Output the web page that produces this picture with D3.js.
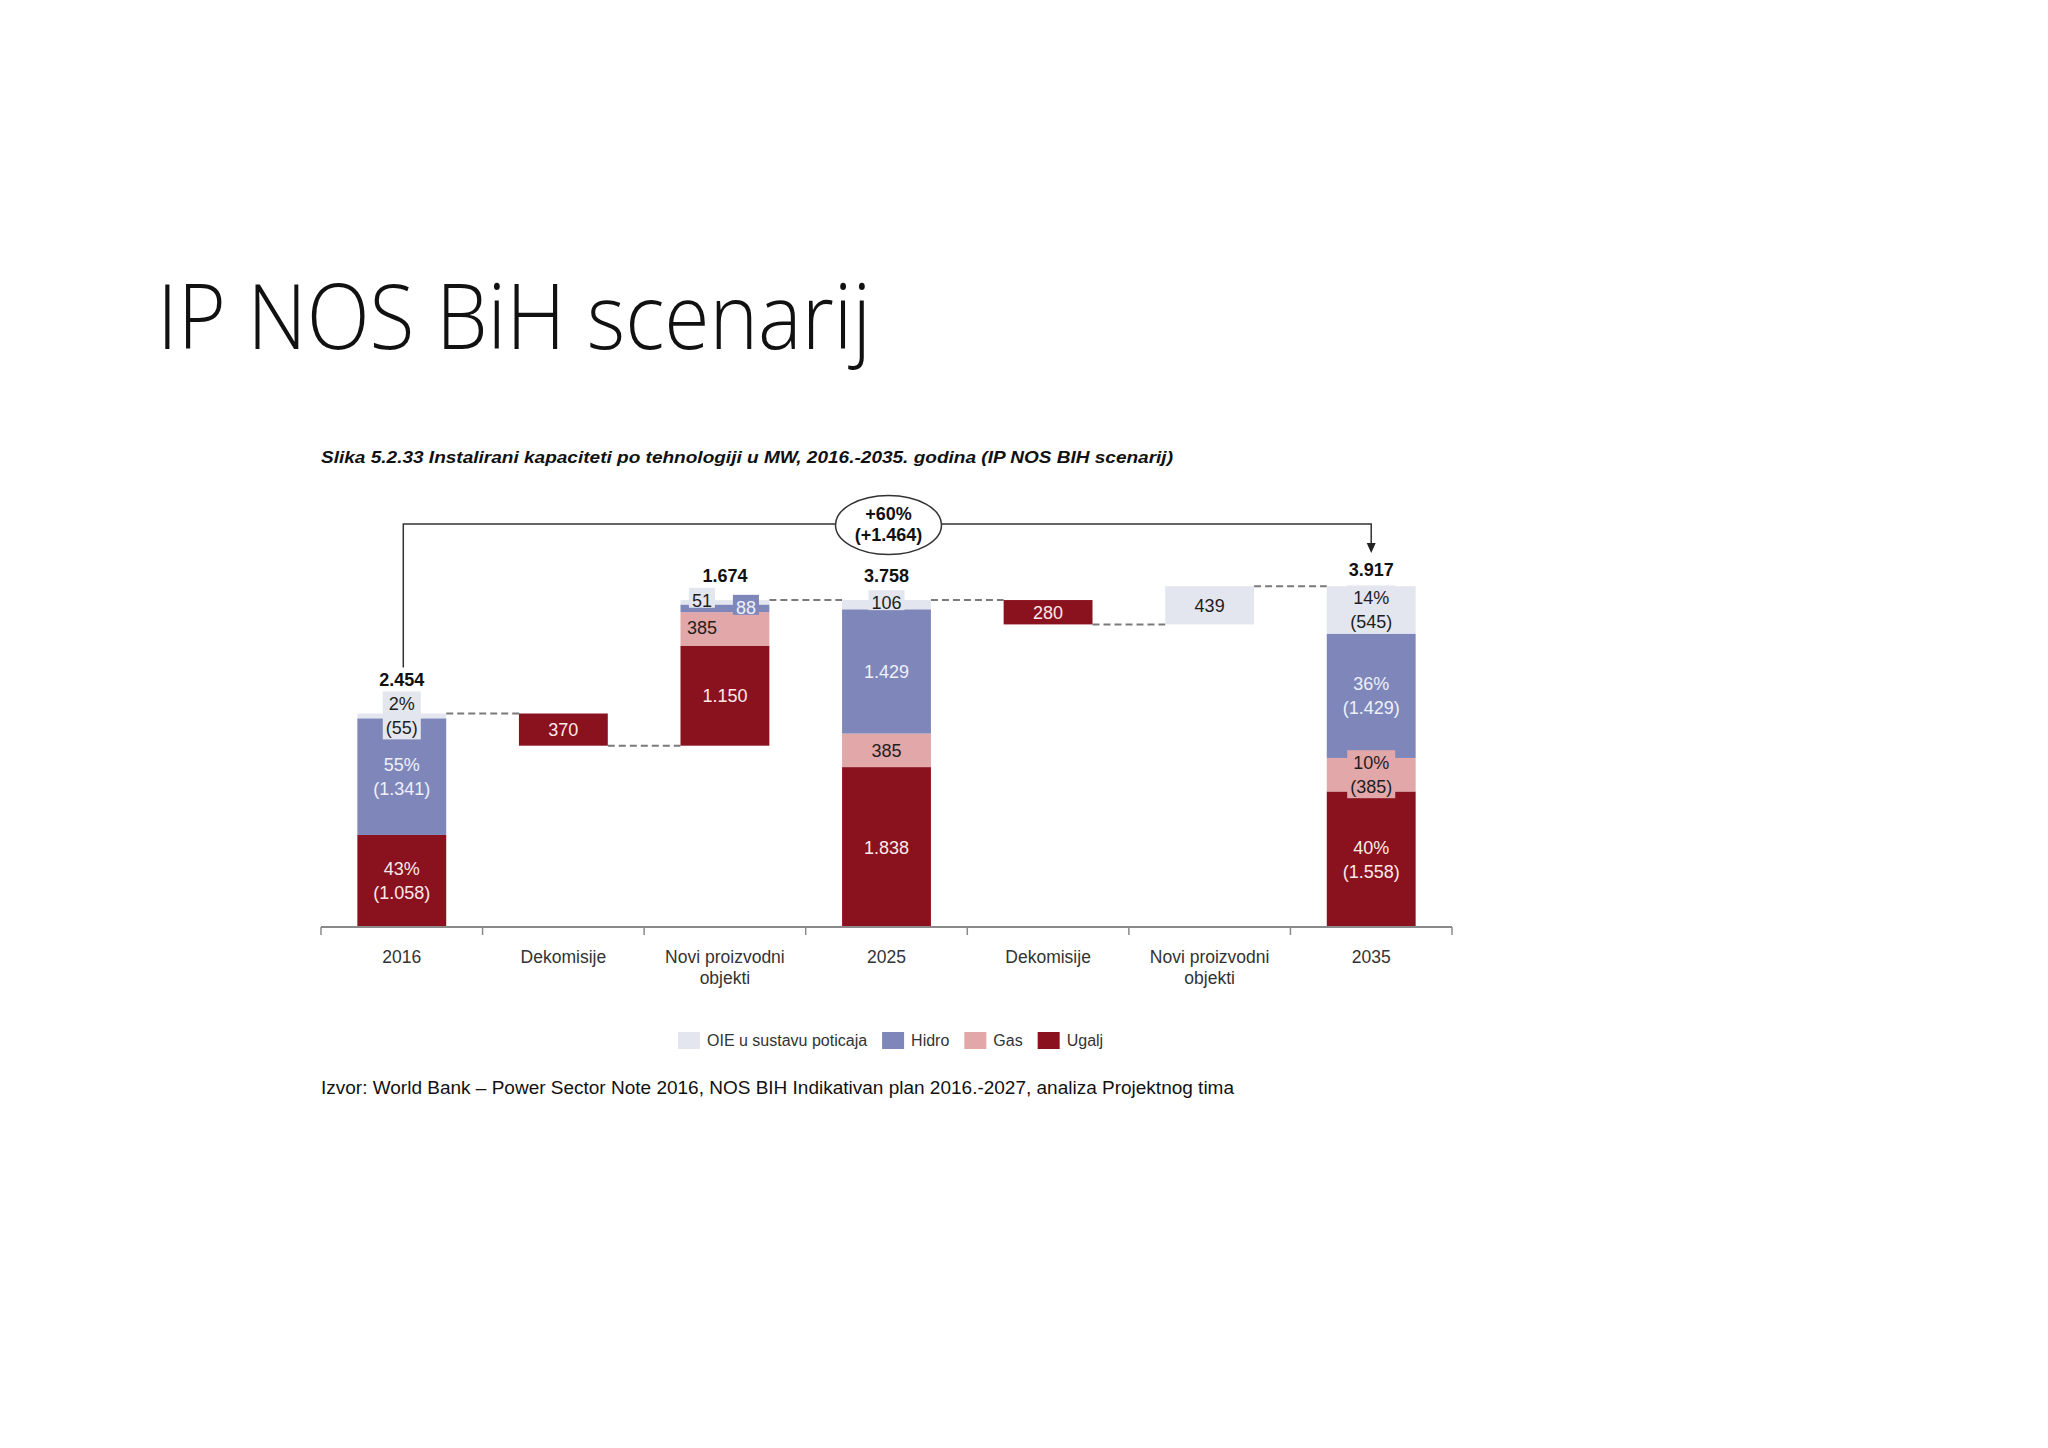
<!DOCTYPE html>
<html>
<head>
<meta charset="utf-8">
<script src="https://cdn.jsdelivr.net/npm/d3@7"></script>
<style>
  html, body { margin: 0; padding: 0; background: #ffffff; }
  svg { display: block; }
</style>
</head>
<body>
<svg id="chart" width="2048" height="1448"></svg>
<script>
// ---------------- DATA ----------------
const categories = ["2016", "Dekomisije", "Novi proizvodni objekti", "2025", "Dekomisije", "Novi proizvodni objekti", "2035"];
const categoryLines = [["2016"], ["Dekomisije"], ["Novi proizvodni", "objekti"], ["2025"], ["Dekomisije"], ["Novi proizvodni", "objekti"], ["2035"]];
const kinds = ["total", "minus", "plus", "total", "minus", "plus", "total"];
const seriesNames = ["Ugalj", "Gas", "Hidro", "OIE u sustavu poticaja"];
const ugalj = [1058, 370, 1150, 1838, 280, 0, 1558];
const gas   = [0, 0, 385, 385, 0, 0, 385];
const hidro = [1341, 0, 88, 1429, 0, 0, 1429];
const oie   = [55, 0, 51, 106, 0, 439, 545];
const legendOrder = ["OIE u sustavu poticaja", "Hidro", "Gas", "Ugalj"];
const changeLabel = ["+60%", "(+1.464)"];
const titleText = "IP NOS BiH scenarij";
const captionText = "Slika 5.2.33 Instalirani kapaciteti po tehnologiji u MW, 2016.-2035. godina (IP NOS BIH scenarij)";
const sourceText = "Izvor: World Bank \u2013 Power Sector Note 2016, NOS BIH Indikativan plan 2016.-2027, analiza Projektnog tima";

// ---------------- STYLE ----------------
const colors = { "Ugalj": "#8a111e", "Gas": "#e2a7a9", "Hidro": "#7f87ba", "OIE u sustavu poticaja": "#e3e6ee" };
const textColors = { "Ugalj": "#fbe9ea", "Gas": "#1e1e1e", "Hidro": "#eef0fa", "OIE u sustavu poticaja": "#1e1e1e" };
const FONT = "'Liberation Sans', Arial, sans-serif";

const svg = d3.select("#chart");
const values = [ugalj, gas, hidro, oie];
const fmt = d3.formatLocale({ decimal: ",", thousands: ".", grouping: [3], currency: ["", ""] }).format(",d");

// Title
svg.append("text").attr("x", 157).attr("y", 349)
  .attr("font-family", "'Open Sans', sans-serif").attr("font-weight", 300)
  .attr("font-size", 90).attr("fill", "#111")
  .attr("textLength", 714).attr("lengthAdjust", "spacingAndGlyphs")
  .text(titleText);

// Caption
svg.append("text").attr("x", 321).attr("y", 463)
  .attr("font-family", FONT).attr("font-weight", "bold").attr("font-style", "italic")
  .attr("font-size", 17).attr("fill", "#111")
  .attr("textLength", 852).attr("lengthAdjust", "spacingAndGlyphs")
  .text(captionText);

// ---------------- SCALES ----------------
const x = d3.scaleBand().domain(d3.range(categories.length)).range([321, 1452]).paddingInner(0.45).paddingOuter(0.225);
const y = d3.scaleLinear().domain([0, 4000]).range([927, 579]);

// waterfall bases
const totals = categories.map((c, i) => d3.sum(values, s => s[i]));
const bases = [];
let running = 0;
kinds.forEach((k, i) => {
  if (k === "total") { bases.push(0); running = totals[i]; }
  else if (k === "minus") { running -= totals[i]; bases.push(running); }
  else { bases.push(running); running += totals[i]; }
});

// segments
const segments = [];
categories.forEach((c, i) => {
  let acc = bases[i];
  seriesNames.forEach((s, si) => {
    const v = values[si][i];
    if (v > 0) {
      segments.push({ i, s, si, v, y0: acc, y1: acc + v });
      acc += v;
    }
  });
});

// dashed connectors
const connectors = [];
for (let i = 0; i < categories.length - 1; i++) {
  let level;
  if (kinds[i] === "minus") level = bases[i];
  else level = bases[i] + totals[i];
  connectors.push({ x1: x(i) + x.bandwidth(), x2: x(i + 1), v: level });
}
svg.append("g").selectAll("line").data(connectors).join("line")
  .attr("x1", d => d.x1).attr("x2", d => d.x2)
  .attr("y1", d => y(d.v)).attr("y2", d => y(d.v))
  .attr("stroke", "#7a7a7a").attr("stroke-width", 2).attr("stroke-dasharray", "7,4");

// bars
svg.append("g").selectAll("rect").data(segments).join("rect")
  .attr("x", d => x(d.i)).attr("width", x.bandwidth())
  .attr("y", d => y(d.y1)).attr("height", d => y(d.y0) - y(d.y1))
  .attr("fill", d => colors[d.s]);

// axis
const axisG = svg.append("g");
axisG.append("line").attr("x1", 321).attr("x2", 1452).attr("y1", 927).attr("y2", 927)
  .attr("stroke", "#8a8a8a").attr("stroke-width", 2);
const step = x.step();
axisG.selectAll("line.tick").data(d3.range(categories.length + 1)).join("line").attr("class", "tick")
  .attr("x1", d => 321 + d * step).attr("x2", d => 321 + d * step)
  .attr("y1", 927).attr("y2", 935).attr("stroke", "#8a8a8a").attr("stroke-width", 1.5);
categoryLines.forEach((lines, i) => {
  const t = axisG.append("text").attr("x", x(i) + x.bandwidth() / 2).attr("y", 963)
    .attr("text-anchor", "middle").attr("font-family", FONT).attr("font-size", 17.5).attr("fill", "#333");
  lines.forEach((l, li) => t.append("tspan").attr("x", x(i) + x.bandwidth() / 2).attr("dy", li === 0 ? 0 : 21).text(l));
});

// segment labels
const tweaks = { "2-Gas": { dx: -23, dy: -1 }, "2-OIE u sustavu poticaja": { dx: -23, dy: -2 }, "2-Hidro": { dx: 21, dy: -1 }, "3-OIE u sustavu poticaja": { dy: -2 } };
const labG = svg.append("g");
segments.forEach(d => {
  const showPct = kinds[d.i] === "total" && (d.i === 0 || d.i === categories.length - 1);
  const lines = showPct ? [Math.round(d.v / totals[d.i] * 100) + "%", "(" + fmt(d.v) + ")"] : [fmt(d.v)];
  const tw = tweaks[d.i + "-" + d.s] || {};
  const cx = x(d.i) + x.bandwidth() / 2 + (tw.dx || 0);
  const cy = (y(d.y0) + y(d.y1)) / 2 + (tw.dy || 0);
  const lh = 24;
  const segH = y(d.y0) - y(d.y1);
  const g = labG.append("g");
  const t = g.append("text").attr("text-anchor", "middle").attr("font-family", FONT)
    .attr("font-size", 18).attr("fill", textColors[d.s]);
  lines.forEach((l, li) => {
    t.append("tspan").attr("x", cx).attr("y", cy + (li - (lines.length - 1) / 2) * lh + 6.5).text(l);
  });
  const needBox = segH < lines.length * lh;
  if (needBox) {
    const bb = t.node().getBBox();
    g.insert("rect", "text").attr("x", bb.x - 3).attr("y", cy - lines.length * lh / 2 - 0.5)
      .attr("width", bb.width + 6).attr("height", lines.length * lh - (lines.length === 1 ? 4 : 0))
      .attr("fill", colors[d.s]);
  }
});

// total labels
const totalIdx = [0, 2, 3, 6];
const totalOffsets = { 0: 28, 2: 18, 3: 18, 6: 10 };
totalIdx.forEach(i => {
  svg.append("text").attr("x", x(i) + x.bandwidth() / 2).attr("y", y(bases[i] + totals[i]) - totalOffsets[i])
    .attr("text-anchor", "middle").attr("font-family", FONT).attr("font-weight", "bold")
    .attr("font-size", 18).attr("fill", "#111").text(fmt(totals[i]));
});

// change bracket
const bx1 = x(0) + x.bandwidth() / 2 + 1.5, bx2 = x(6) + x.bandwidth() / 2, by = 524;
svg.append("path").attr("d", `M${bx1},${y(totals[0]) - 46} V${by} H${bx2} V${546}`)
  .attr("fill", "none").attr("stroke", "#333").attr("stroke-width", 1.5);
svg.append("path").attr("d", `M${bx2 - 4.5},${543} L${bx2 + 4.5},${543} L${bx2},${553} Z`).attr("fill", "#222");
const ecx = x(3) + x.bandwidth() / 2 + 2;
svg.append("ellipse").attr("cx", ecx).attr("cy", 525).attr("rx", 53).attr("ry", 29.5)
  .attr("fill", "#fff").attr("stroke", "#333").attr("stroke-width", 1.5);
const ct = svg.append("text").attr("text-anchor", "middle").attr("font-family", FONT)
  .attr("font-weight", "bold").attr("font-size", 18).attr("fill", "#111");
changeLabel.forEach((l, li) => ct.append("tspan").attr("x", ecx).attr("y", 520 + li * 21).text(l));

// legend
const legG = svg.append("g");
let lx = 678;
legendOrder.forEach(s => {
  legG.append("rect").attr("x", lx).attr("y", 1032).attr("width", 22).attr("height", 17).attr("fill", colors[s]);
  const t = legG.append("text").attr("x", lx + 29).attr("y", 1046).attr("font-family", FONT)
    .attr("font-size", 16).attr("fill", "#333").text(s);
  lx += 29 + t.node().getComputedTextLength() + 15;
});

// source
svg.append("text").attr("x", 321).attr("y", 1094).attr("font-family", FONT)
  .attr("font-size", 17.5).attr("fill", "#111")
  .attr("textLength", 913).attr("lengthAdjust", "spacingAndGlyphs")
  .text(sourceText);
</script>
</body>
</html>
